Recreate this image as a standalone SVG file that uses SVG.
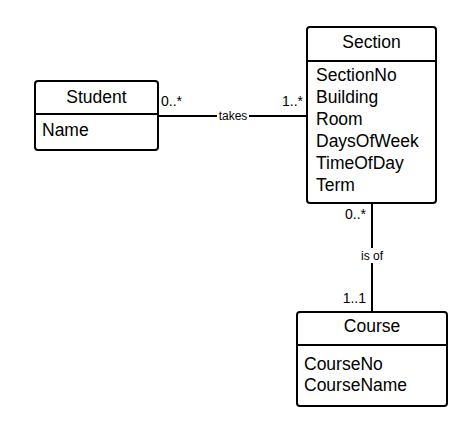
<svg xmlns="http://www.w3.org/2000/svg" width="474" height="436" viewBox="0 0 474 436">
<style>
.box{fill:#fff;stroke:#000;stroke-width:2}
.div{stroke:#000;stroke-width:2}
.t{font-family:"Liberation Sans",Arial,sans-serif;font-size:17.5px;fill:#000}
.c{text-anchor:middle}
.m{font-family:"Liberation Sans",Arial,sans-serif;font-size:14px;fill:#000}
.l{font-family:"Liberation Sans",Arial,sans-serif;font-size:12px;fill:#000;text-anchor:middle}
.ln{stroke:#000;stroke-width:2;fill:none}
</style>
<rect width="474" height="436" fill="#fff"/>
<g id="connectors">
<line class="ln" x1="158" y1="116" x2="307" y2="116"/>
<rect x="217" y="108" width="32" height="15" fill="#fff"/>
<text class="l" x="233" y="120">takes</text>
<text class="m" x="161" y="106">0..*</text>
<text class="m" x="303" y="106" text-anchor="end">1..*</text>
<line class="ln" x1="372" y1="203" x2="372" y2="312"/>
<rect x="357" y="248" width="30" height="15" fill="#fff"/>
<text class="l" x="372" y="260">is of</text>
<text class="m" x="366" y="219" text-anchor="end">0..*</text>
<text class="m" x="366" y="303" text-anchor="end">1..1</text>
</g>
<g id="student">
<rect class="box" x="35" y="81" width="123" height="69" rx="3"/>
<line class="div" x1="35" y1="114" x2="158" y2="114"/>
<text class="t c" x="96.5" y="103">Student</text>
<text class="t" x="42" y="136">Name</text>
</g>
<g id="section">
<rect class="box" x="307" y="27" width="129" height="176" rx="3"/>
<line class="div" x1="307" y1="61" x2="436" y2="61"/>
<text class="t c" x="371.5" y="48">Section</text>
<text class="t" x="316" y="81">SectionNo</text>
<text class="t" x="316" y="103">Building</text>
<text class="t" x="316" y="125">Room</text>
<text class="t" x="316" y="147">DaysOfWeek</text>
<text class="t" x="316" y="169">TimeOfDay</text>
<text class="t" x="316" y="191">Term</text>
</g>
<g id="course">
<rect class="box" x="297" y="312" width="150" height="94" rx="3"/>
<line class="div" x1="297" y1="345" x2="447" y2="345"/>
<text class="t c" x="372" y="332">Course</text>
<text class="t" x="304" y="370">CourseNo</text>
<text class="t" x="304" y="391">CourseName</text>
</g>
</svg>
